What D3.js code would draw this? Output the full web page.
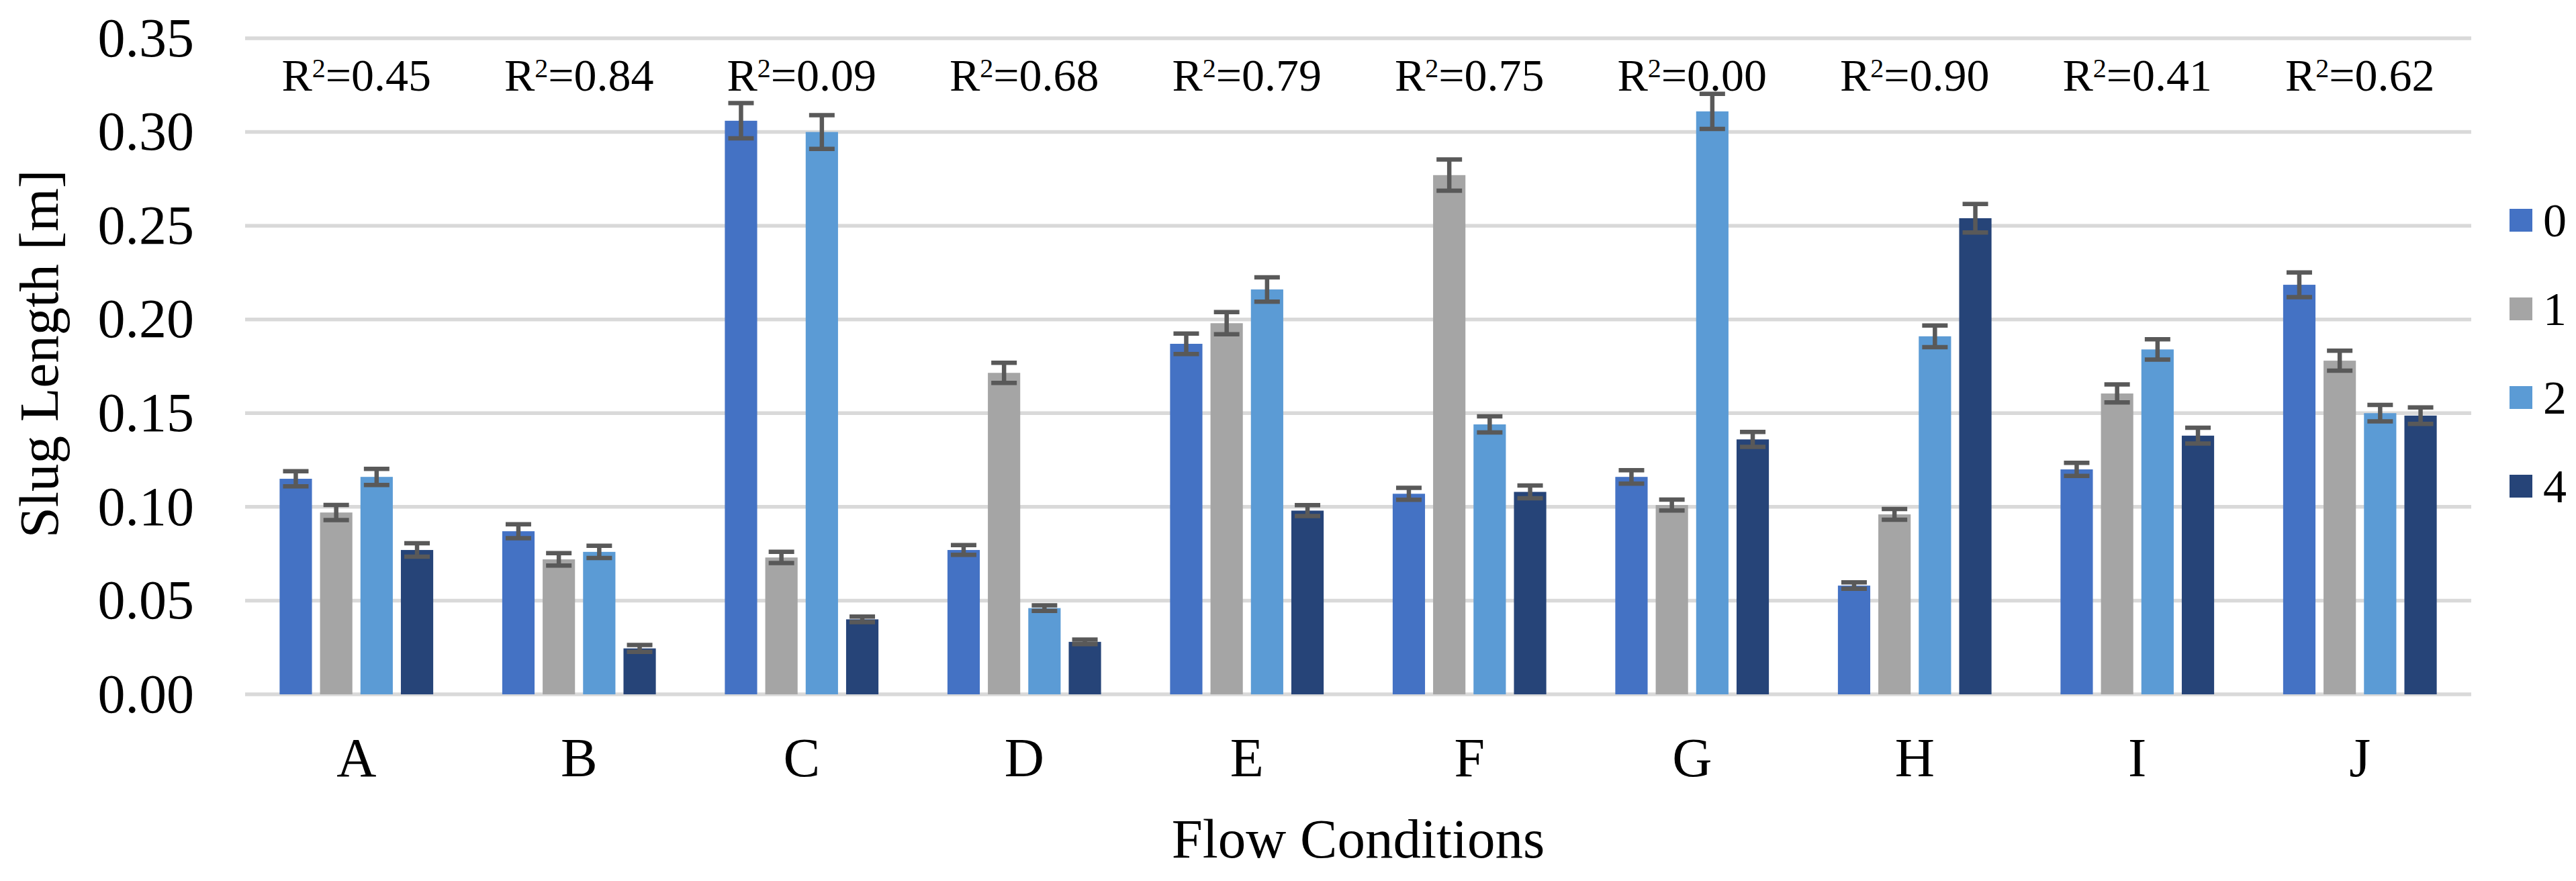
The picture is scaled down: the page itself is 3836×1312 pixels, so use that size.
<!DOCTYPE html>
<html>
<head>
<meta charset="utf-8">
<script src="https://cdn.jsdelivr.net/npm/d3@7"></script>
<style>
  body { margin: 0; background: #ffffff; }
  text { font-family: "Liberation Serif", "Times New Roman", serif; fill: #000000; }
</style>
</head>
<body>
<div id="chart"></div>
<script>
// slug length bar chart with error bars
var categories = ["A", "B", "C", "D", "E", "F", "G", "H", "I", "J"];
var seriesNames = ["0", "1", "2", "4"];
var seriesColors = ["#4472C4", "#A5A5A5", "#5B9BD5", "#264478"];

var slug0 = [0.115, 0.087, 0.306, 0.077, 0.187, 0.107, 0.116, 0.058, 0.120, 0.2185];
var slug1 = [0.097, 0.072, 0.073, 0.1715, 0.198, 0.277, 0.101, 0.096, 0.1605, 0.178];
var slug2 = [0.116, 0.076, 0.300, 0.046, 0.216, 0.144, 0.311, 0.191, 0.184, 0.150];
var slug4 = [0.077, 0.0245, 0.040, 0.028, 0.098, 0.108, 0.136, 0.254, 0.138, 0.1487];

var err0 = [0.0040, 0.0037, 0.0094, 0.0026, 0.0055, 0.0032, 0.0036, 0.0017, 0.0035, 0.0066];
var err1 = [0.0040, 0.0033, 0.0030, 0.0054, 0.0059, 0.0083, 0.0029, 0.0029, 0.0048, 0.0053];
var err2 = [0.0043, 0.0033, 0.0090, 0.0015, 0.0065, 0.0043, 0.0094, 0.0058, 0.0054, 0.0044];
var err4 = [0.0036, 0.0018, 0.0015, 0.0012, 0.0029, 0.0034, 0.0040, 0.0076, 0.0042, 0.0044];

var r2Values = ["0.45", "0.84", "0.09", "0.68", "0.79", "0.75", "0.00", "0.90", "0.41", "0.62"];
var yTicks = [0, 0.05, 0.10, 0.15, 0.20, 0.25, 0.30, 0.35];

var svgWidth = 3836;
var svgHeight = 1312;

var margin = {
  top: 57,
  right: 156,
  bottom: 278,
  left: 365
};

var width = svgWidth - margin.left - margin.right;
var height = svgHeight - margin.top - margin.bottom;

var svg = d3.select("#chart")
  .append("svg")
  .attr("width", svgWidth)
  .attr("height", svgHeight);

var chartGroup = svg.append("g")
  .attr("transform", `translate(${margin.left}, ${margin.top})`);

// build rows for the bars
var allValues = [slug0, slug1, slug2, slug4];
var allErrors = [err0, err1, err2, err4];
var barData = [];
categories.forEach(function(cat, i) {
  seriesNames.forEach(function(s, j) {
    barData.push({ cat: cat, series: s, value: allValues[j][i], err: allErrors[j][i], color: seriesColors[j] });
  });
});

var xScale = d3.scaleBand()
  .domain(categories)
  .range([0, width])
  .padding(0);

var groupWidth = xScale.bandwidth() * 0.69;
var xInner = d3.scaleBand()
  .domain(seriesNames)
  .range([(xScale.bandwidth() - groupWidth) / 2, (xScale.bandwidth() + groupWidth) / 2])
  .paddingInner(0.2)
  .paddingOuter(0);

var yScale = d3.scaleLinear()
  .domain([0, 0.35])
  .range([height, 0]);

// gridlines
chartGroup.append("g")
  .selectAll("line")
  .data(yTicks)
  .join("line")
  .attr("x1", 0)
  .attr("x2", width)
  .attr("y1", d => yScale(d))
  .attr("y2", d => yScale(d))
  .attr("stroke", "#D9D9D9")
  .attr("stroke-width", 5.5);

// y axis labels
var leftAxis = d3.axisLeft(yScale)
  .tickValues(yTicks)
  .tickFormat(d3.format(".2f"))
  .tickSize(0)
  .tickPadding(76);

var yAxis = chartGroup.append("g")
  .call(leftAxis);
yAxis.select(".domain").remove();
yAxis.selectAll("text")
  .style("font-size", "82px")
  .style("font-family", "'Liberation Serif', 'Times New Roman', serif")
  .attr("fill", "#000");

// x axis labels
var bottomAxis = d3.axisBottom(xScale)
  .tickSize(0)
  .tickPadding(64);

var xAxis = chartGroup.append("g")
  .attr("transform", `translate(0, ${height})`)
  .call(bottomAxis);
xAxis.select(".domain").remove();
xAxis.selectAll("text")
  .style("font-size", "82px")
  .style("font-family", "'Liberation Serif', 'Times New Roman', serif")
  .attr("fill", "#000");

// bars
var barsGroup = chartGroup.append("g");
barsGroup.selectAll("rect")
  .data(barData)
  .join("rect")
  .attr("x", d => xScale(d.cat) + xInner(d.series))
  .attr("y", d => yScale(d.value))
  .attr("width", xInner.bandwidth())
  .attr("height", d => height - yScale(d.value))
  .attr("fill", d => d.color);

// error bars
var capHalf = 19;
var errGroup = chartGroup.append("g")
  .attr("stroke", "#595959")
  .attr("stroke-width", 6.5);

var errItems = errGroup.selectAll("g")
  .data(barData)
  .join("g")
  .attr("transform", d => `translate(${xScale(d.cat) + xInner(d.series) + xInner.bandwidth() / 2}, 0)`);

errItems.append("line")
  .attr("x1", 0).attr("x2", 0)
  .attr("y1", d => yScale(d.value + d.err))
  .attr("y2", d => yScale(d.value - d.err));
errItems.append("line")
  .attr("x1", -capHalf).attr("x2", capHalf)
  .attr("y1", d => yScale(d.value + d.err))
  .attr("y2", d => yScale(d.value + d.err));
errItems.append("line")
  .attr("x1", -capHalf).attr("x2", capHalf)
  .attr("y1", d => yScale(d.value - d.err))
  .attr("y2", d => yScale(d.value - d.err));

// R^2 labels
var r2Text = chartGroup.append("g")
  .selectAll("text")
  .data(categories)
  .join("text")
  .attr("x", d => xScale(d) + xScale.bandwidth() / 2)
  .attr("y", 78)
  .attr("text-anchor", "middle")
  .style("font-size", "68px");

r2Text.append("tspan").text("R");
r2Text.append("tspan")
  .attr("dy", -20)
  .style("font-size", "40px")
  .text("2");
r2Text.append("tspan")
  .attr("dy", 20)
  .text((d, i) => "=" + r2Values[i]);

// axis titles
chartGroup.append("text")
  .attr("transform", `translate(${width / 2}, ${height + 243})`)
  .attr("text-anchor", "middle")
  .style("font-size", "83px")
  .text("Flow Conditions");

chartGroup.append("text")
  .attr("transform", `translate(${86 - margin.left}, ${470}) rotate(-90)`)
  .attr("text-anchor", "middle")
  .style("font-size", "83px")
  .text("Slug Length [m]");

// legend
var legend = svg.append("g")
  .attr("transform", "translate(3737, 328)");

var legendItems = legend.selectAll("g")
  .data(seriesNames)
  .join("g")
  .attr("transform", (d, i) => `translate(0, ${i * 132})`);

legendItems.append("rect")
  .attr("x", 0)
  .attr("y", -17)
  .attr("width", 34)
  .attr("height", 34)
  .attr("fill", (d, i) => seriesColors[i]);

legendItems.append("text")
  .attr("x", 50)
  .attr("y", 0)
  .attr("dy", "0.34em")
  .style("font-size", "70px")
  .text(d => d);
</script>
</body>
</html>
